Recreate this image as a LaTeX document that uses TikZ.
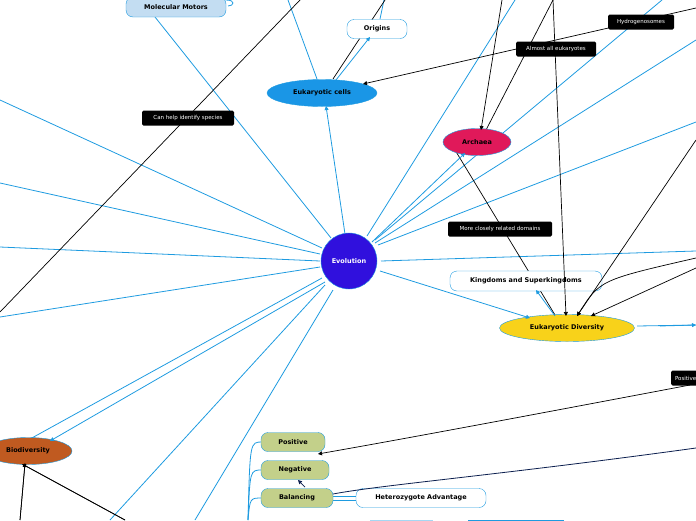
\documentclass[tikz,border=0pt]{standalone}
\usepackage{fontspec}
\setmainfont{DejaVu Sans}
\usetikzlibrary{shapes.geometric,arrows.meta}
\definecolor{lblue}{HTML}{1E9BE0}
\definecolor{evo}{HTML}{3010DD}
\definecolor{euk}{HTML}{1A96E6}
\definecolor{arch}{HTML}{E0195A}
\definecolor{ediv}{HTML}{F8D21A}
\definecolor{bio}{HTML}{C05A20}
\definecolor{grn}{HTML}{C3D08A}
\definecolor{mm}{HTML}{C3DDF2}
\definecolor{navy}{HTML}{0B1E4E}
\begin{document}
\begin{tikzpicture}[x=1pt,y=-1pt,
  every node/.style={font=\fontsize{6.5}{7}\selectfont\bfseries},
  ell/.style={ellipse,draw=lblue,inner sep=0pt},
  rbox/.style={rounded corners=7pt,draw=lblue,fill=white,inner sep=0pt},
  lab/.style={rounded corners=1.5pt,fill=black,text=white,inner sep=0pt,font=\fontsize{5.5}{6}\selectfont},
  bl/.style={draw=lblue,line width=0.8pt},
  bk/.style={draw=black,line width=0.7pt},
  arr/.style={-{Triangle[length=4pt,width=4pt]}}]
\useasboundingbox (0,0) rectangle (696,520);
% blue lines
\draw[bl] (155,17) -- (331,238);
\draw[bl] (317,79) -- (288,0);
\draw[bl] (380,19) -- (384,0);
\draw[bl] (0,100) -- (322,248);
\draw[bl] (0,183) -- (320,254);
\draw[bl] (0,247) -- (320,261);
\draw[bl] (0,317) -- (320,267);
\draw[bl] (30,439) -- (322,278);
\draw[bl] (110,520) -- (325,285);
\draw[bl] (195,520) -- (333,290);
\draw[bl] (381,261) -- (696,251);
\draw[bl] (367,236) -- (515,0);
\draw[bl] (375,240) -- (662,0);
\draw[bl] (375,243) -- (696,40);
\draw[bl] (378,245) -- (696,122);
\draw[bl] (637,326) -- (696,325);
\foreach \y in {442,470,498} \draw[bl] (248,520) .. controls (250,\y) .. (262,\y);
\draw[bl] (332,496) -- (357,496);
\draw[bl] (332,500) -- (357,500);
% black lines
\draw[bk] (0,312) -- (300,0);
\draw[bk] (333,79) -- (385,0);
\draw[bk] (553,0) -- (486,130);
\draw[bk] (455,150) -- (555,315);
\draw[bk] (125,520) -- (24,465);
\draw[bk] (20,520) -- (25,464);
% nodes
\node[ell,fill=evo,text=white,circle,minimum size=56pt] (evo) at (349,261) {Evolution};
\node[ell,fill=euk,minimum width=110pt,minimum height=27pt] (ec) at (322,93) {Eukaryotic cells};
\node[rbox,minimum width=60pt,minimum height=19pt] (or) at (377,29) {Origins};
\node[rbox,fill=mm,minimum width=100pt,minimum height=20pt] (mm) at (176,7) {Molecular Motors};
\draw[bl] (226,0) .. controls (236,0) and (234,6) .. (228,6);
\node[ell,fill=arch,minimum width=68pt,minimum height=27pt] (ar) at (477,142) {Archaea};
\node[rbox,minimum width=152pt,minimum height=20pt] (ks) at (526,281) {Kingdoms and Superkingdoms};
\node[ell,fill=ediv,minimum width=135pt,minimum height=27pt] (ed) at (567,328) {Eukaryotic Diversity};
\node[ell,fill=bio,minimum width=88pt,minimum height=27pt] (bd) at (28,451) {Biodiversity};
\node[rbox,fill=grn,minimum width=64pt,minimum height=19pt] (pos) at (293,442) {Positive};
\node[rbox,fill=grn,minimum width=68pt,minimum height=19pt] (neg) at (295,470) {Negative};
\node[rbox,fill=grn,minimum width=72pt,minimum height=19pt] (bal) at (297,498) {Balancing};
\node[rbox,minimum width=130pt,minimum height=19pt] (het) at (421,498) {Heterozygote Advantage};
\draw[draw=lblue!40,line width=0.8pt] (370,521) -- (370,520) -- (432,520) -- (432,521);
\draw[draw=lblue,line width=0.8pt] (468,521) -- (468,520) -- (563,520) -- (563,521);
% arrows
\draw[bl,arr] (evo) -- (326,106);
\draw[bl,arr] (336,80) -- (370,37);
\draw[bl,arr] (372,242) -- (465,153);
\draw[bl,arr] (325,282) -- (50,441);
\draw[bl,arr] (380,271) -- (530,318);
\draw[bl,arr] (555,316) -- (536,290);
\draw[bl,arr] (660,326) -- (696,325);
\draw[bk,arr] (502,0) -- (481,130);
\draw[bk,arr] (553,0) -- (566,316);
\draw[bk,arr] (696,8) -- (363,84);
\draw[bk,arr] (696,140) -- (577,316);
\draw[bk,arr] (696,258) .. controls (600,280) .. (577,316);
\draw[bk,arr] (696,268) -- (591,316);
\draw[bk,arr] (125,520) -- (22,464);
\draw[bk,arr] (20,520) -- (25,463);
\draw[bk,arr] (690,385) .. controls (400,440) and (340,450) .. (318,454);
\draw[navy,line width=0.8pt] (696,448) .. controls (500,475) and (380,485) .. (333,494);
\draw[navy,line width=0.7pt,arr] (305,487) -- (298,480);
% labels
\node[lab,minimum width=92pt,minimum height=15pt] at (188,118) {Can help identify species};
\node[lab,minimum width=80pt,minimum height=15pt] at (556,49) {Almost all eukaryotes};
\node[lab,minimum width=66pt,minimum height=15pt] at (641,22) {Hydrogenosomes};
\node[lab,minimum width=104pt,minimum height=15pt] at (500,229) {More closely related domains};
\node[lab,minimum width=40pt,minimum height=15pt,anchor=west,text width=36pt,align=left] at (671,378) {~Positive};
\end{tikzpicture}
\end{document}
